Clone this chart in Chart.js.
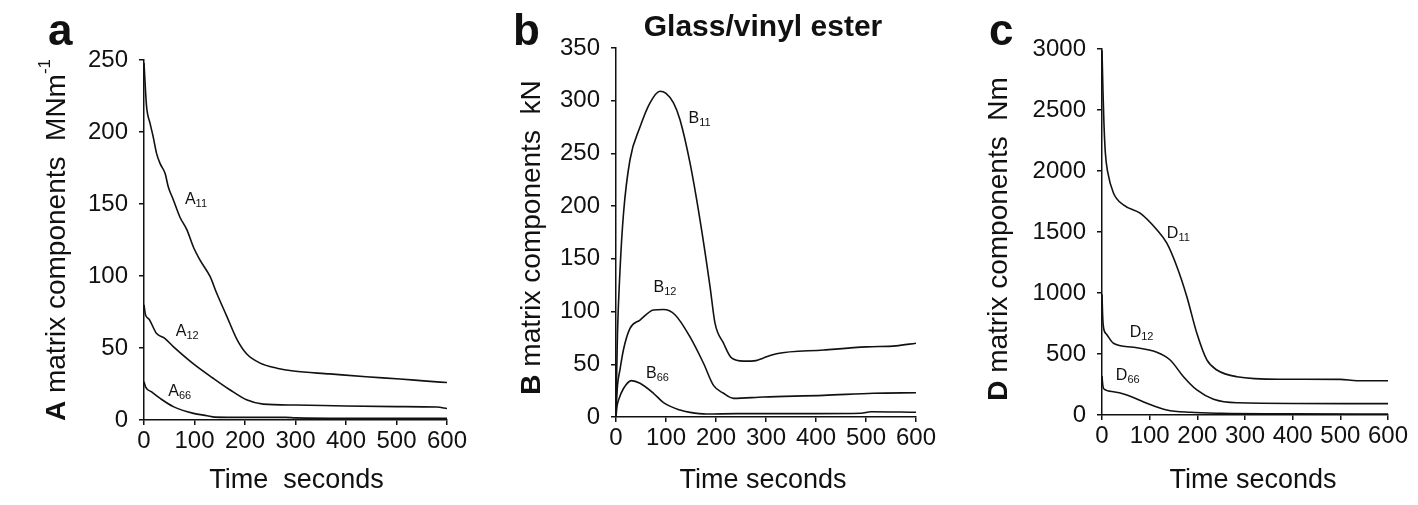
<!DOCTYPE html>
<html>
<head>
<meta charset="utf-8">
<script src="https://cdn.jsdelivr.net/npm/chart.js"></script>
<style>
  html, body { margin: 0; padding: 0; background: #fff; }
  #wrap { position: relative; width: 1418px; height: 505px; overflow: hidden; }
  .panel { position: absolute; top: 0; height: 505px; }
</style>
</head>
<body>
<div id="wrap">
  <div class="panel" style="left:0px"><canvas id="chartA" width="472" height="505"></canvas></div>
  <div class="panel" style="left:472px"><canvas id="chartB" width="470" height="505"></canvas></div>
  <div class="panel" style="left:942px"><canvas id="chartD" width="476" height="505"></canvas></div>
</div>
<script>
'use strict';

// time axis ticks (seconds)
const timeMax = 600;
const timeStep = 100;

// panel a - A matrix components, MNm-1
const tA11 = [0, 2, 5, 12, 18, 25, 32, 42, 48, 58, 71, 85, 98, 111, 131, 144, 164, 184, 203, 230, 263, 296, 368, 440, 507, 560, 600];
const vA11 = [248, 235, 218, 206, 197, 185, 178, 171, 162, 153, 141, 132, 120, 111, 99.5, 88, 72, 56, 46, 39.5, 36, 34, 32, 30, 28.5, 27, 26];
const tA12 = [0, 3, 10, 25, 40, 58, 98, 137, 170, 203, 236, 300, 400, 500, 580, 600];
const vA12 = [80, 73, 70, 60, 57, 51, 39, 29, 21, 14, 11, 10.4, 9.7, 9.3, 9, 8];
const tA66 = [0, 3, 15, 32, 58, 98, 125, 140, 200, 280, 300, 400, 600];
const vA66 = [26.6, 23, 19.5, 15, 9.3, 4.6, 3, 2, 1.8, 1.8, 1.5, 1.2, 1.2];

// panel b - B matrix components, kN
const tB11 = [0, 3, 8, 15, 28, 48, 68, 88, 100, 115, 128, 148, 168, 188, 198, 215, 231, 255, 280, 295, 321, 415, 501, 560, 600];
const vB11 = [8, 80, 139, 193, 244, 275, 298, 309, 307, 298, 282, 241, 187, 124, 89, 70, 56, 53, 53.5, 56, 60, 63.5, 66.5, 67.5, 70];
const tB12 = [0, 3, 8, 15, 28, 48, 75, 95, 118, 148, 175, 195, 215, 235, 295, 415, 515, 600];
const vB12 = [5, 30, 45, 64, 84, 92, 101.5, 102, 97, 76, 51, 30, 22.5, 17.7, 19, 20.5, 22.5, 23];
const tB66 = [0, 2, 5, 15, 31, 48, 75, 95, 128, 148, 181, 241, 400, 490, 510, 600];
const vB66 = [0, 10, 16, 27, 34.5, 32, 22.5, 13.6, 6.6, 4.4, 2.8, 3.2, 3.2, 3.5, 5, 4.5];

// panel c - D matrix components, Nm
const tD11 = [0, 2, 4, 7, 12, 24, 45, 80, 115, 136, 157, 178, 199, 220, 241, 283, 374, 500, 535, 600];
const vD11 = [2990, 2660, 2400, 2150, 1990, 1820, 1722, 1654, 1518, 1408, 1217, 970, 670, 451, 369, 314, 293, 292, 281, 281];
const tD12 = [0, 1.5, 3.5, 10, 24, 66, 115, 143, 171, 199, 234, 283, 600];
const vD12 = [990, 800, 710, 660, 588, 555, 515, 451, 314, 205, 129, 101, 93];
const tD66 = [0, 1.5, 3.5, 24, 52, 94, 136, 185, 250, 400, 600];
const vD66 = [320, 250, 215, 191, 164, 96, 41, 22, 14, 10, 8];

const subs = ['11', '12', '66'];

const FONT = '"Liberation Sans", Arial, Helvetica, sans-serif';
const INK = '#111';

// draws panel letter, title, curve labels and axis titles
const panelText = {
  id: 'panelText',
  afterDraw(chart, args, o) {
    const ctx = chart.ctx;
    const area = chart.chartArea;
    const xs = chart.scales.x, ys = chart.scales.y;
    ctx.save();
    ctx.fillStyle = INK;
    ctx.textBaseline = 'alphabetic';

    ctx.textAlign = 'left';
    ctx.font = 'bold 44px ' + FONT;
    ctx.fillText(o.letter, o.letterX, 45);

    if (o.title) {
      ctx.textAlign = 'center';
      ctx.font = 'bold 30px ' + FONT;
      ctx.fillText(o.title, (area.left + area.right) / 2 + o.titleDx, 36);
    }

    // curve labels with subscripts
    ctx.textAlign = 'left';
    subs.forEach((s, i) => {
      const px = xs.getPixelForValue(o.labelT[i]);
      const py = ys.getPixelForValue(o.labelV[i]);
      ctx.font = '16px ' + FONT;
      ctx.fillText(o.sym, px, py);
      const w = ctx.measureText(o.sym).width;
      ctx.font = '11px ' + FONT;
      ctx.fillText(s, px + w, py + 3);
    });

    // x title
    ctx.textAlign = 'center';
    ctx.font = '27px ' + FONT;
    ctx.fillText(o.xTitle, (area.left + area.right) / 2 + o.xTitleDx, 488);

    // y title, rotated
    const parts = [
      { text: o.sym, font: 'bold 28px ' + FONT, dy: 0 },
      { text: ' matrix components  ' + o.unit, font: '28px ' + FONT, dy: 0 },
      { text: o.sup || '', font: '17px ' + FONT, dy: -12 }
    ];
    let total = 0;
    parts.forEach(p => { ctx.font = p.font; p.w = ctx.measureText(p.text).width; total += p.w; });
    ctx.translate(o.yTitleX, (area.top + area.bottom) / 2 + o.yTitleDy);
    ctx.rotate(-Math.PI / 2);
    ctx.textAlign = 'left';
    ctx.textBaseline = 'middle';
    let cx = -total / 2;
    parts.forEach(p => {
      ctx.font = p.font;
      ctx.fillText(p.text, cx, p.dy);
      cx += p.w;
    });
    ctx.restore();
  }
};
Chart.register(panelText);

function toPoints(t, v) {
  return t.map((x, i) => ({ x: x, y: v[i] }));
}

function makeChart(id, curves, yMax, yStep, yWidth, pad, text) {
  const config = {
    type: 'line',
    data: {
      datasets: curves.map(c => ({
        data: toPoints(c[0], c[1]),
        borderColor: INK,
        borderWidth: 1.6,
        pointRadius: 0,
        fill: false,
        cubicInterpolationMode: 'monotone'
      }))
    },
    options: {
      responsive: false,
      animation: false,
      devicePixelRatio: 1,
      layout: { padding: pad },
      plugins: {
        legend: { display: false },
        tooltip: { enabled: false },
        panelText: text
      },
      scales: {
        x: {
          type: 'linear',
          min: 0,
          max: timeMax,
          ticks: { stepSize: timeStep, font: { size: 24, family: FONT }, color: INK, padding: 2, maxRotation: 0,
                   callback: v => String(v) },
          grid: { drawOnChartArea: false, drawTicks: true, tickLength: 5, color: INK, lineWidth: 1.5 },
          border: { color: INK, width: 1.5 },
          afterFit(s) { s.height = 40; }
        },
        y: {
          min: 0,
          max: yMax,
          ticks: { stepSize: yStep, font: { size: 24, family: FONT }, color: INK, padding: 11,
                   callback: v => String(v) },
          grid: { drawOnChartArea: false, drawTicks: true, tickLength: 5, color: INK, lineWidth: 1.5 },
          border: { color: INK, width: 1.5 },
          afterFit(s) { s.width = yWidth; }
        }
      }
    }
  };
  return new Chart(document.getElementById(id), config);
}

makeChart('chartA', [[tA11, vA11], [tA12, vA12], [tA66, vA66]], 250, 50, 144,
  { left: 0, right: 25, top: 60, bottom: 45 },
  { letter: 'a', letterX: 48, sym: 'A', unit: 'MNm', sup: '-1',
    labelT: [81, 63, 48], labelV: [150, 58, 17],
    xTitle: 'Time  seconds', xTitleDx: 1, yTitleX: 57, yTitleDy: 0 });

makeChart('chartB', [[tB11, vB11], [tB12, vB12], [tB66, vB66]], 350, 50, 144,
  { left: 0, right: 26, top: 48, bottom: 48 },
  { letter: 'b', letterX: 41, sym: 'B', unit: 'kN', title: 'Glass/vinyl ester', titleDx: -3,
    labelT: [145, 75, 60], labelV: [279, 119, 37],
    xTitle: 'Time seconds', xTitleDx: -3, yTitleX: 60, yTitleDy: 5 });

makeChart('chartD', [[tD11, vD11], [tD12, vD12], [tD66, vD66]], 3000, 500, 160,
  { left: 0, right: 30, top: 49, bottom: 50 },
  { letter: 'c', letterX: 47, sym: 'D', unit: 'Nm',
    labelT: [136, 58, 29], labelV: [1450, 637, 287],
    xTitle: 'Time seconds', xTitleDx: 8, yTitleX: 57, yTitleDy: 7 });
</script>
</body>
</html>
